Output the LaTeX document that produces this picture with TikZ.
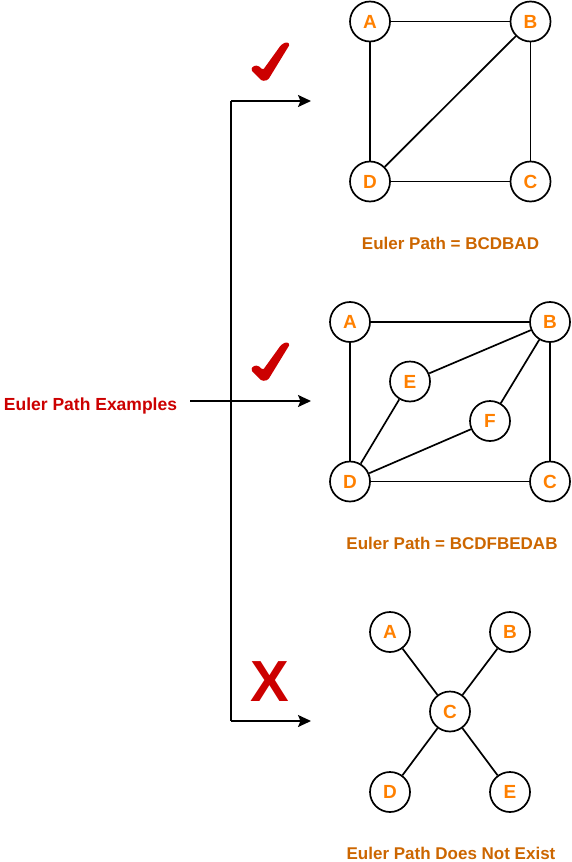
\documentclass[tikz,border=0pt]{standalone}
\usepackage{fontspec}
\setmainfont{Liberation Sans}
\usetikzlibrary{arrows.meta}
\definecolor{nodeorange}{HTML}{FF8000}
\definecolor{labelorange}{HTML}{CC6600}
\definecolor{markred}{HTML}{CC0000}
\tikzset{
  vert/.style={circle, draw=black, line width=1.7pt, fill=white, minimum size=40pt, inner sep=0pt,
    text=nodeorange, font=\fontsize{19}{22}\selectfont\bfseries},
  edge/.style={line width=1.7pt, draw=black},
  caption/.style={anchor=base, inner sep=0pt, text=labelorange, font=\fontsize{17}{20}\selectfont\bfseries},
  conn/.style={line width=1.7pt, -{Stealth[length=13pt,width=12pt,inset=2.5pt]}},
  checkpic/.pic={
    \fill[markred, rounded corners=1.5pt] (-8,19) -- (-19,8) -- (-17,4) -- (-12,3.5) -- (-7,8)
      -- (11,-17) -- (16,-20) -- (20,-18) -- (-2,18) -- cycle;
  }
}
\begin{document}
\begin{tikzpicture}[x=1pt, y=-1pt]
\useasboundingbox (0,0) rectangle (572,862);

% left title and connectors
\node[anchor=base, inner sep=0pt, text=markred, font=\fontsize{17.5}{20}\selectfont\bfseries] (title) at (90.5,410) {Euler Path Examples};
\coordinate (mainstart) at (190,401);
\coordinate (mainend) at (311,401);
\coordinate (topcorner) at (231,101);
\coordinate (botcorner) at (231,721);
\coordinate (topend) at (311,101);
\coordinate (botend) at (311,721);
\draw[line width=1.7pt] (topcorner) -- (botcorner);
\draw[conn] (mainstart) -- (mainend);
\draw[conn] (topcorner) -- (topend);
\draw[conn] (botcorner) -- (botend);

% marks
\pic (check1) at (270,62) {checkpic};
\pic (check2) at (270,362) {checkpic};
\node[inner sep=0pt, text=markred, font=\fontsize{58}{60}\selectfont\bfseries] (cross) at (270,682) {X};

% graph 1
\node[vert] (a1) at (370,21.5) {A};
\node[vert] (b1) at (530.5,21.5) {B};
\node[vert] (d1) at (370,181.5) {D};
\node[vert] (c1) at (530.5,181.5) {C};
\draw[edge] (a1) -- (b1);
\draw[edge] (a1) -- (d1);
\draw[edge] (b1) -- (c1);
\draw[edge] (d1) -- (c1);
\draw[edge] (b1) -- (d1);
\node[caption] (cap1) at (450.5,249.3) {Euler Path = BCDBAD};

% graph 2
\node[vert] (a2) at (350,322) {A};
\node[vert] (b2) at (550,322) {B};
\node[vert] (e2) at (410,381.5) {E};
\node[vert] (f2) at (490,421) {F};
\node[vert] (d2) at (350,481.5) {D};
\node[vert] (c2) at (550,481.5) {C};
\draw[edge] (a2) -- (b2);
\draw[edge] (a2) -- (d2);
\draw[edge] (b2) -- (c2);
\draw[edge] (d2) -- (c2);
\draw[edge] (e2) -- (b2);
\draw[edge] (b2) -- (f2);
\draw[edge] (e2) -- (d2);
\draw[edge] (f2) -- (d2);
\node[caption] (cap2) at (452,549.3) {Euler Path = BCDFBEDAB};

% graph 3
\node[vert] (a3) at (390,632) {A};
\node[vert] (b3) at (510,632) {B};
\node[vert] (c3) at (450,711.5) {C};
\node[vert] (d3) at (390,792) {D};
\node[vert] (e3) at (510,792) {E};
\draw[edge] (a3) -- (c3);
\draw[edge] (b3) -- (c3);
\draw[edge] (c3) -- (d3);
\draw[edge] (c3) -- (e3);
\node[caption] (cap3) at (451,859.3) {Euler Path Does Not Exist};
\end{tikzpicture}
\end{document}
